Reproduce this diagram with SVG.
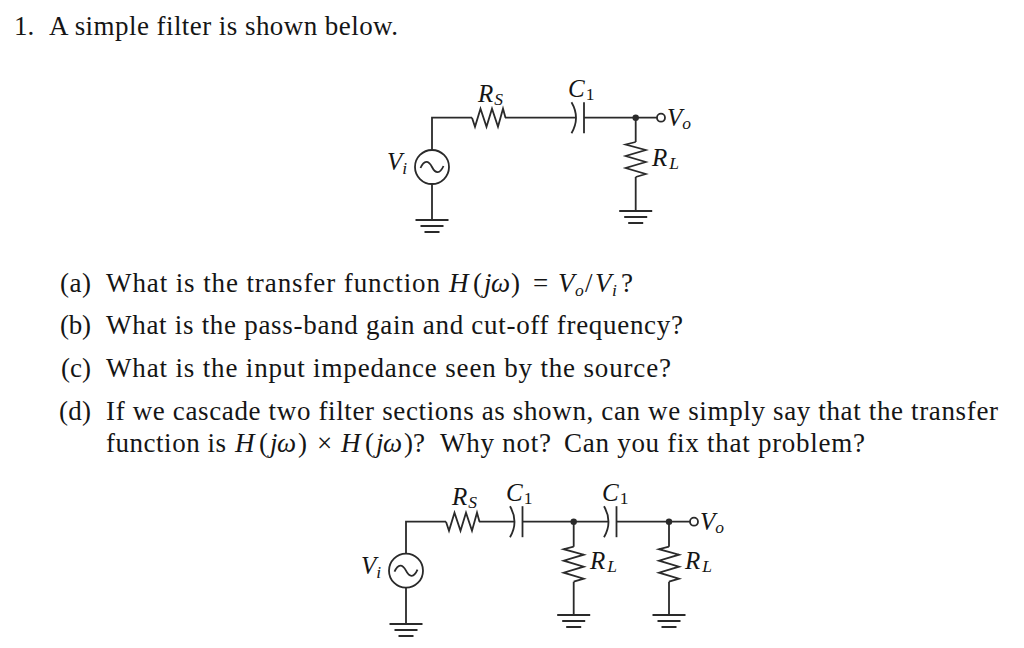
<svg xmlns="http://www.w3.org/2000/svg" width="1024" height="648" viewBox="0 0 1024 648">
<style>
text{font-family:"Liberation Serif","Times New Roman",serif;fill:#151515}
.t{font-size:27px}
.m{font-size:27px;font-style:italic}
.l{font-size:25px;font-style:italic}
.s{font-size:17.5px;font-style:italic}
.n{font-size:17.5px;font-style:normal}
.w,.c{fill:none;stroke:#2a2a2a;stroke-width:1.8;stroke-linejoin:miter}
.gb{stroke-width:2}
.d{fill:#2a2a2a}
</style>
<defs>
<path id="rh" class="c" d="M0 0L3 9L8.5 -9L14.5 9L20 -9L26 9L31 -9L33.5 0"/>
<path id="rv" class="c" d="M0 0L-10 2.5L10 8L-10 14L10 20L-10 26L10 32L0 35"/>
<g id="cap"><path class="c" d="M0 -15.5Q9 0 0 15.5"/><path class="c" d="M12.5 -15.5V15.5"/></g>
<g id="src"><circle class="c" r="17"/><path class="c" d="M-11.5 1C-8 -7 -3.5 -7 0 0S8 7 11.5 -1"/></g>
<g id="gnd"><path class="c gb" d="M-16.5 0H16.5M-11.5 6H11.5M-7.5 12H7.5"/></g>
</defs>

<rect width="1024" height="648" fill="#fff"/>

<g id="heading">
<text class="t" x="14" y="34.5">1.</text>
<text class="t" x="49" y="34.5" textLength="349">A simple filter is shown below.</text>
</g>

<g id="connectors">
<path class="w" d="M432 150V117.7H472M505 117.7H576M584 117.7H657M635.7 117.7V142M635.7 177V211M432 184V220"/>
<path class="w" d="M406 553.7V521.7H446M479 521.7H514M522.5 521.7H608M617 521.7H690M573.7 521.7V546.7M573.7 581.7V615M669 521.7V546.7M669 581.7V615M406 587.7V624"/>
</g>

<g id="circuit1">
<g id="c1-vi"><use href="#src" x="432" y="167"/><text class="l" x="387" y="170">V<tspan class="s" dy="4">i</tspan></text></g>
<g id="c1-rs"><use href="#rh" x="472" y="117.7"/><text class="l" x="478" y="102">R<tspan class="s" dx="1" dy="3">S</tspan></text></g>
<g id="c1-c1"><use href="#cap" x="571.5" y="117.7"/><text class="l" x="568" y="97">C<tspan class="n" dx="1" dy="3">1</tspan></text></g>
<g id="c1-rl"><use href="#rv" x="635.7" y="142"/><text class="l" x="652" y="166">R<tspan class="s" dx="2" dy="3">L</tspan></text></g>
<g id="c1-node"><circle class="d" cx="635.7" cy="117.7" r="3.2"/></g>
<g id="c1-vo"><circle class="c" cx="661" cy="117.7" r="4" fill="#fff"/><text class="l" x="667" y="126">V<tspan class="s" dy="3">o</tspan></text></g>
<g id="c1-g1"><use href="#gnd" x="432" y="220"/></g>
<g id="c1-g2"><use href="#gnd" x="635.7" y="211"/></g>
</g>

<g id="questions">
<text class="t" x="60" y="291.7" textLength="31">(a)</text>
<text class="t" x="106" y="291.7" textLength="334">What is the transfer function</text>
<text class="m" x="449" y="291.7">H</text>
<text class="t" x="473" y="291.7">(</text>
<text class="m" x="484" y="291.7">j</text>
<text class="m" x="491" y="291.7">ω</text>
<text class="t" x="511" y="291.7">)</text>
<text class="t" x="533" y="291.7">=</text>
<text class="m" x="558" y="291.7">V</text>
<text class="s" x="575" y="296">o</text>
<text class="t" x="585" y="291.7">/</text>
<text class="m" x="595" y="291.7">V</text>
<text class="s" x="612" y="296">i</text>
<text class="t" x="621" y="291.7">?</text>

<text class="t" x="60" y="334" textLength="31">(b)</text>
<text class="t" x="106" y="334" textLength="577">What is the pass-band gain and cut-off frequency?</text>

<text class="t" x="61" y="376.5" textLength="30">(c)</text>
<text class="t" x="106" y="376.5" textLength="565">What is the input impedance seen by the source?</text>

<text class="t" x="59" y="419.5" textLength="32">(d)</text>
<text class="t" x="106" y="419.5" textLength="892">If we cascade two filter sections as shown, can we simply say that the transfer</text>

<text class="t" x="106" y="451.5" textLength="120">function is</text>
<text class="m" x="235" y="451.5">H</text>
<text class="t" x="259" y="451.5">(</text>
<text class="m" x="270" y="451.5">j</text>
<text class="m" x="277" y="451.5">ω</text>
<text class="t" x="298" y="451.5">)</text>
<text class="t" x="317" y="451.5">×</text>
<text class="m" x="341" y="451.5">H</text>
<text class="t" x="365" y="451.5">(</text>
<text class="m" x="376" y="451.5">j</text>
<text class="m" x="383" y="451.5">ω</text>
<text class="t" x="404" y="451.5">)?</text>
<text class="t" x="440" y="451.5" textLength="111">Why not?</text>
<text class="t" x="564" y="451.5" textLength="301">Can you fix that problem?</text>
</g>

<g id="circuit2">
<g id="c2-vi"><use href="#src" x="406" y="570.7"/><text class="l" x="361" y="574">V<tspan class="s" dy="4">i</tspan></text></g>
<g id="c2-rs"><use href="#rh" x="446" y="521.7"/><text class="l" x="452" y="505">R<tspan class="s" dx="1" dy="3">S</tspan></text></g>
<g id="c2-c1"><use href="#cap" x="510" y="521.7"/><text class="l" x="506" y="501">C<tspan class="n" dx="1" dy="3">1</tspan></text></g>
<g id="c2-c2"><use href="#cap" x="604" y="521.7"/><text class="l" x="602" y="501">C<tspan class="n" dx="1" dy="3">1</tspan></text></g>
<g id="c2-rl1"><use href="#rv" x="573.7" y="546.7"/><text class="l" x="590" y="569">R<tspan class="s" dx="2" dy="3">L</tspan></text></g>
<g id="c2-rl2"><use href="#rv" x="669" y="546.7"/><text class="l" x="685" y="569">R<tspan class="s" dx="2" dy="3">L</tspan></text></g>
<g id="c2-n1"><circle class="d" cx="573.7" cy="521.7" r="3.2"/></g>
<g id="c2-n2"><circle class="d" cx="669" cy="521.7" r="3.2"/></g>
<g id="c2-vo"><circle class="c" cx="694" cy="521.7" r="4" fill="#fff"/><text class="l" x="700" y="530">V<tspan class="s" dy="3">o</tspan></text></g>
<g id="c2-g1"><use href="#gnd" x="406" y="624"/></g>
<g id="c2-g2"><use href="#gnd" x="573.7" y="615"/></g>
<g id="c2-g3"><use href="#gnd" x="669" y="615"/></g>
</g>
</svg>
